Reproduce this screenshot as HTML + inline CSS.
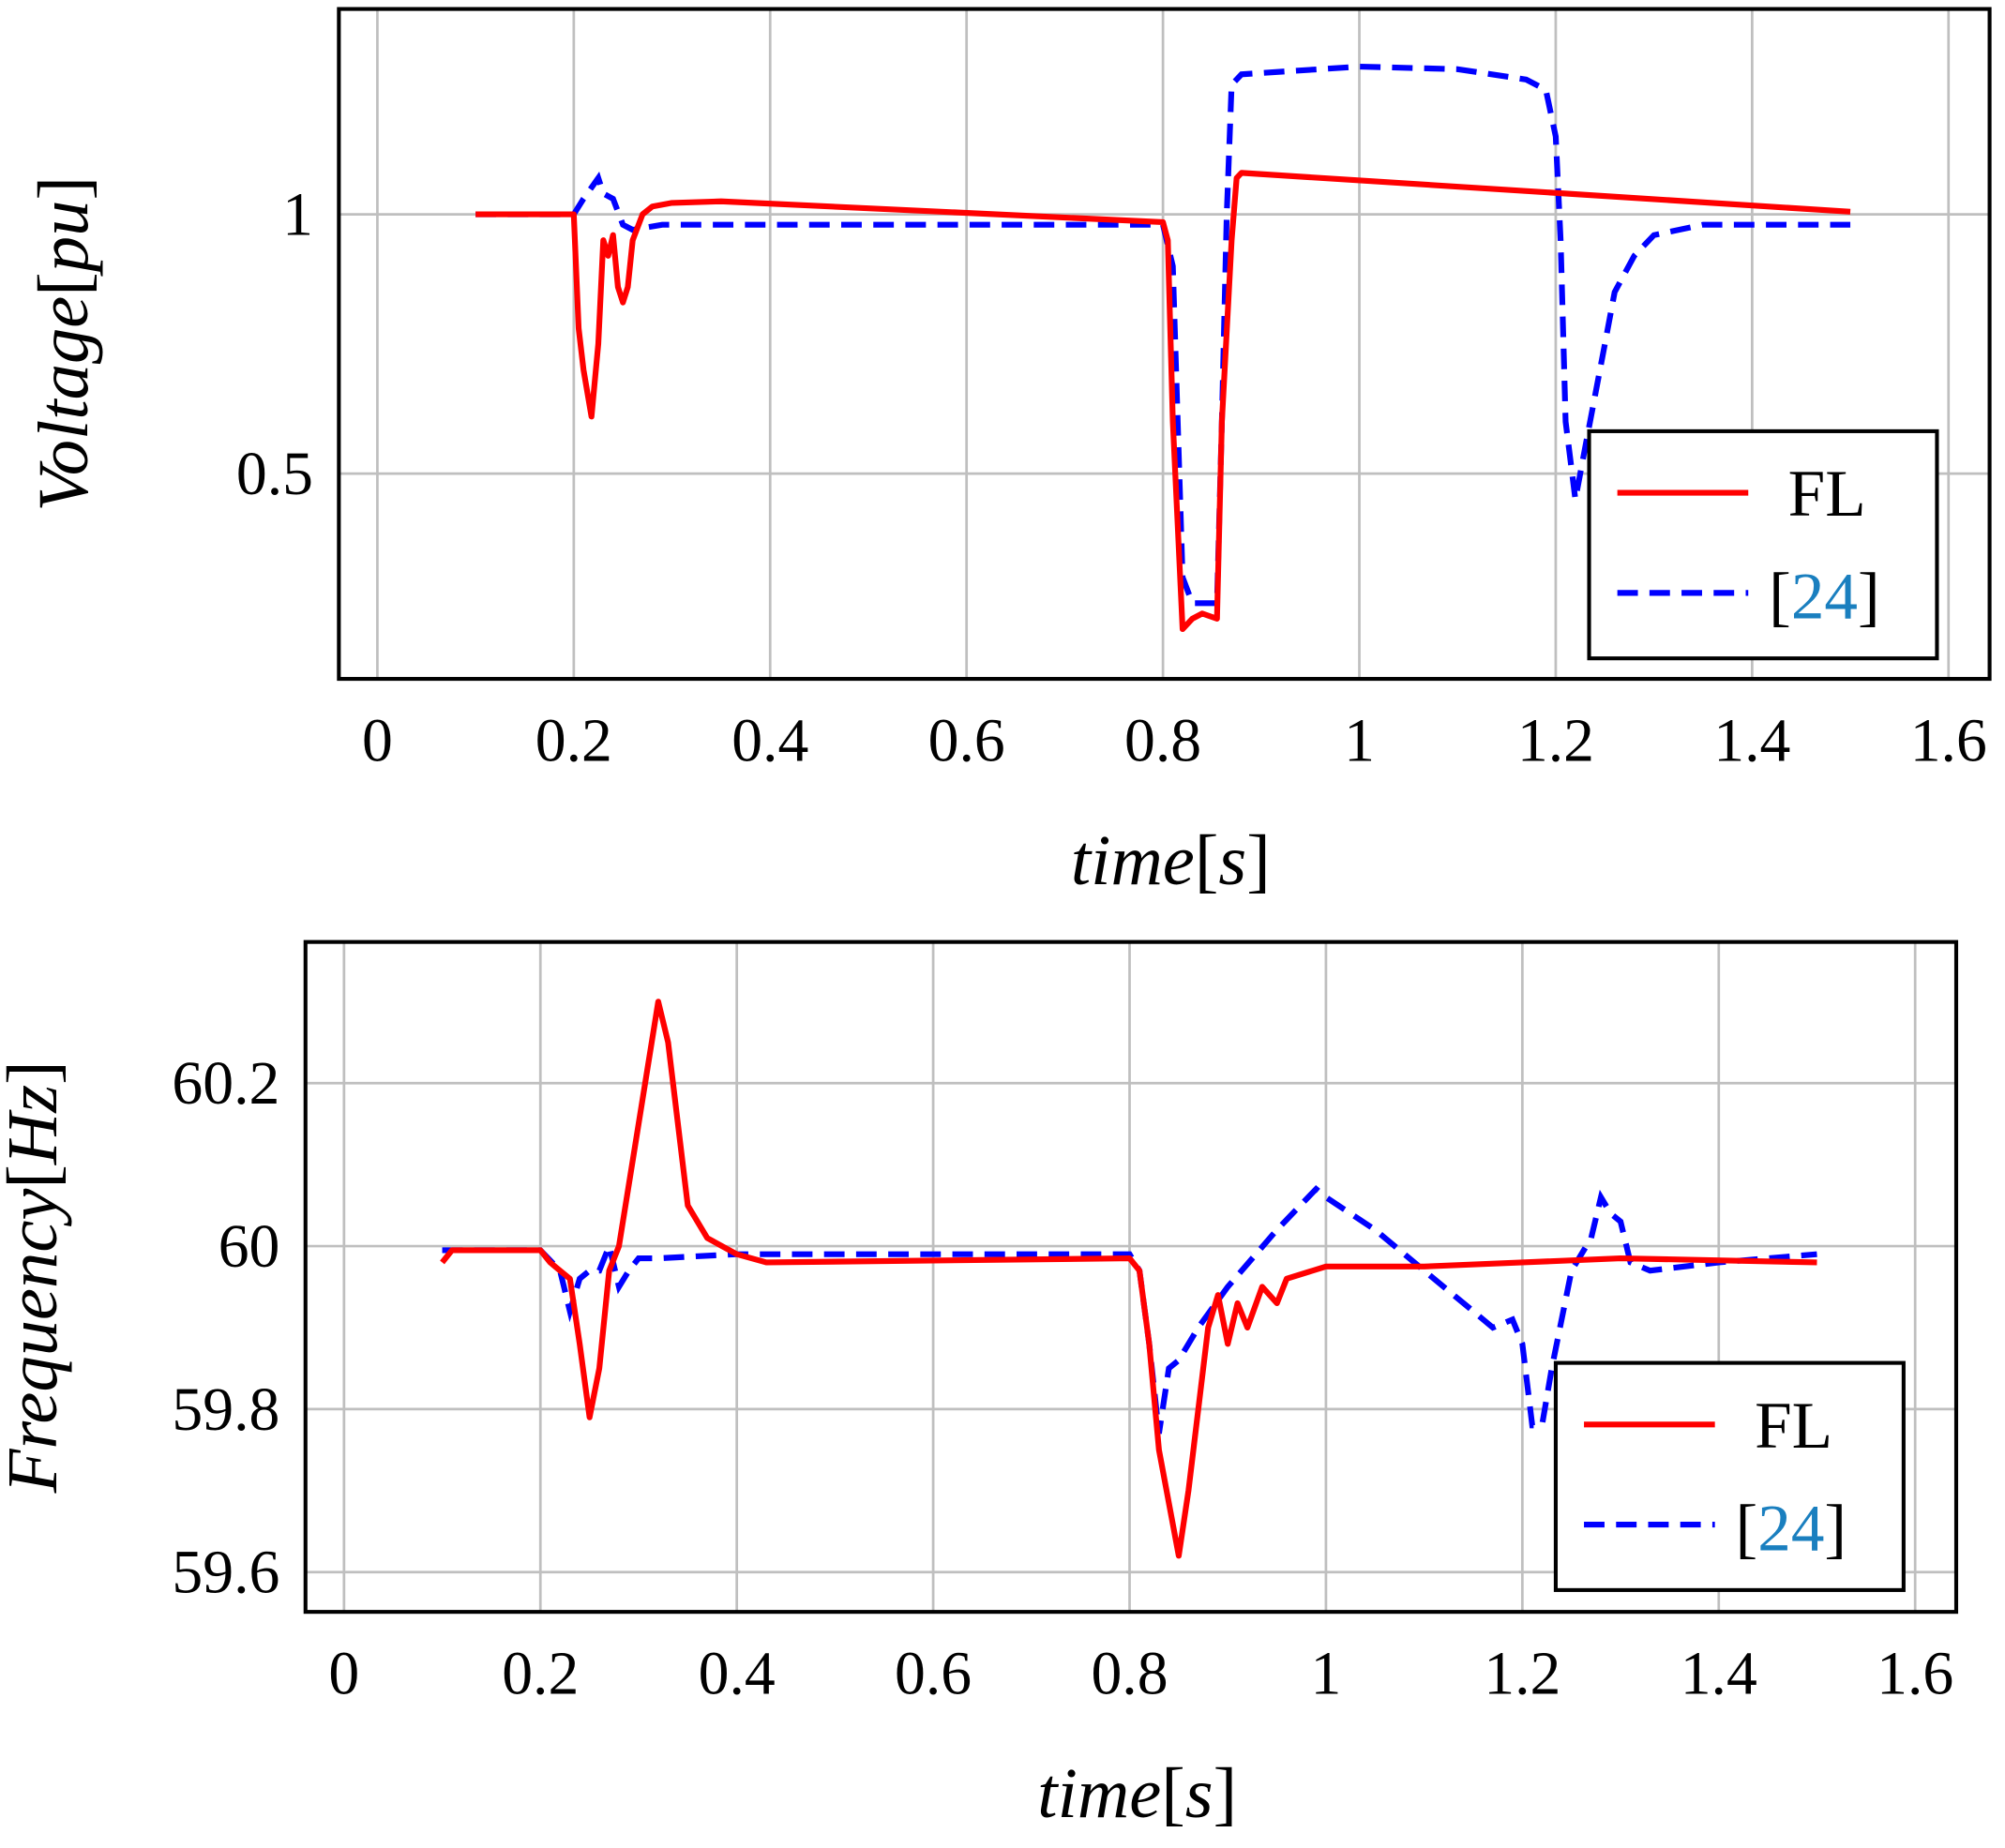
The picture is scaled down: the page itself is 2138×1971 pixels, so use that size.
<!DOCTYPE html>
<html><head><meta charset="utf-8"><style>
html,body{margin:0;padding:0;background:#fff;}
svg{display:block;}
text{font-family:"Liberation Serif",serif;fill:#000;}
</style></head><body>
<svg id="s" width="2138" height="1971" viewBox="0 0 1562 1440" preserveAspectRatio="none" xmlns="http://www.w3.org/2000/svg"></svg>
<script>
var S=document.getElementById('s'),h='';
function P(pts,fx,fy){return pts.map(function(p,i){return (i?'L':'M')+fx(p[0]).toFixed(1)+' '+fy(p[1]).toFixed(1);}).join(' ');}
function panel(o){
 var L=o.L,R=o.R,T=o.T,B=o.B;
 var fx=function(t){return o.x0+765*t;};
 for(var i=0;i<=8;i++){var x=fx(i*0.2);h+='<line x1="'+x+'" y1="'+T+'" x2="'+x+'" y2="'+B+'" stroke="#bfbfbf" stroke-width="2"/>';
  h+='<text x="'+x+'" y="'+(B+64)+'" font-size="48" text-anchor="middle">'+(i==0?'0':i==5?'1':(i*0.2).toFixed(1))+'</text>';}
 o.yt.forEach(function(v){var y=o.fy(v[0]);h+='<line x1="'+L+'" y1="'+y+'" x2="'+R+'" y2="'+y+'" stroke="#bfbfbf" stroke-width="2"/>';
  h+='<text x="'+(L-20)+'" y="'+(y+16)+'" font-size="48" text-anchor="end">'+v[1]+'</text>';});
 h+='<path d="'+P(o.blue,fx,o.fy)+'" fill="none" stroke="#0000ff" stroke-width="4.5" stroke-dasharray="16 9"/>';
 h+='<path d="'+P(o.red,fx,o.fy)+'" fill="none" stroke="#ff0000" stroke-width="4.5" stroke-linejoin="round"/>';
 h+='<rect x="'+L+'" y="'+T+'" width="'+(R-L)+'" height="'+(B-T)+'" fill="none" stroke="#000" stroke-width="3"/>';
 var lx=o.lx,ly=o.ly;
 h+='<rect x="'+lx+'" y="'+ly+'" width="271" height="177" fill="#fff" stroke="#000" stroke-width="3"/>';
 h+='<line x1="'+(lx+22)+'" y1="'+(ly+48)+'" x2="'+(lx+124)+'" y2="'+(ly+48)+'" stroke="#ff0000" stroke-width="4.5"/>';
 h+='<line x1="'+(lx+22)+'" y1="'+(ly+126)+'" x2="'+(lx+124)+'" y2="'+(ly+126)+'" stroke="#0000ff" stroke-width="4.5" stroke-dasharray="16 9"/>';
 h+='<text x="'+(lx+155)+'" y="'+(ly+66)+'" font-size="52">FL</text>';
 h+='<text x="'+(lx+140)+'" y="'+(ly+146)+'" font-size="52">[<tspan fill="#1a7fbf">24</tspan>]</text>';
 h+='<text x="'+((L+R)/2+5)+'" y="'+(B+160)+'" font-size="56" text-anchor="middle" font-style="italic">time<tspan font-style="normal">[</tspan>s<tspan font-style="normal">]</tspan></text>';
 h+='<text transform="translate('+o.ylx+','+((T+B)/2)+') rotate(-90)" font-size="56" text-anchor="middle" font-style="italic">'+o.yl+'</text>';
}
panel({L:264,R:1550,T:7,B:529,x0:294,fy:function(v){return 167+(1-v)*404;},
 yt:[[1,'1'],[0.5,'0.5']],lx:1238,ly:336,ylx:68,
 yl:'Voltage<tspan font-style="normal">[</tspan>pu<tspan font-style="normal">]</tspan>',
 red:[[0.1,1],[0.2,1],[0.205,0.78],[0.21,0.7],[0.218,0.61],[0.225,0.75],[0.23,0.95],[0.235,0.92],[0.24,0.96],[0.245,0.86],[0.25,0.83],[0.255,0.86],[0.26,0.95],[0.27,1.0],[0.28,1.015],[0.3,1.022],[0.35,1.025],[0.8,0.985],[0.805,0.95],[0.81,0.6],[0.815,0.4],[0.82,0.2],[0.83,0.22],[0.84,0.23],[0.855,0.22],[0.86,0.6],[0.87,0.95],[0.875,1.07],[0.88,1.08],[1.5,1.005]],
 blue:[[0.1,1],[0.2,1],[0.21,1.03],[0.225,1.07],[0.23,1.04],[0.24,1.03],[0.25,0.98],[0.26,0.97],[0.29,0.98],[0.8,0.98],[0.81,0.9],[0.815,0.6],[0.82,0.3],[0.83,0.25],[0.855,0.25],[0.86,0.6],[0.865,1.0],[0.87,1.25],[0.88,1.27],[1.0,1.285],[1.1,1.28],[1.17,1.26],[1.19,1.24],[1.2,1.15],[1.205,0.95],[1.21,0.6],[1.22,0.45],[1.23,0.55],[1.24,0.65],[1.25,0.75],[1.26,0.85],[1.28,0.92],[1.3,0.96],[1.35,0.98],[1.5,0.98]]});
panel({L:238,R:1524,T:734,B:1256,x0:268,fy:function(f){return 971-(f-60)*635;},
 yt:[[60.2,'60.2'],[60,'60'],[59.8,'59.8'],[59.6,'59.6']],lx:1212,ly:1062,ylx:44,
 yl:'Frequency<tspan font-style="normal">[</tspan>Hz<tspan font-style="normal">]</tspan>',
 red:[[0.1,59.98],[0.11,59.995],[0.2,59.995],[0.21,59.98],[0.22,59.97],[0.23,59.96],[0.24,59.88],[0.25,59.79],[0.26,59.85],[0.27,59.97],[0.28,60.0],[0.3,60.15],[0.32,60.3],[0.33,60.25],[0.35,60.05],[0.37,60.01],[0.4,59.99],[0.43,59.98],[0.8,59.985],[0.81,59.97],[0.82,59.88],[0.83,59.75],[0.85,59.62],[0.86,59.7],[0.88,59.9],[0.89,59.94],[0.9,59.88],[0.91,59.93],[0.92,59.9],[0.935,59.95],[0.95,59.93],[0.96,59.96],[1.0,59.975],[1.1,59.975],[1.2,59.98],[1.3,59.985],[1.5,59.98]],
 blue:[[0.1,59.995],[0.2,59.995],[0.22,59.97],[0.23,59.92],[0.24,59.96],[0.25,59.97],[0.26,59.97],[0.27,60.0],[0.28,59.95],[0.29,59.97],[0.3,59.985],[0.32,59.985],[0.4,59.99],[0.8,59.99],[0.81,59.97],[0.82,59.88],[0.83,59.77],[0.84,59.85],[0.85,59.86],[0.87,59.9],[0.9,59.95],[0.95,60.02],[0.99,60.07],[1.0,60.06],[1.05,60.02],[1.1,59.97],[1.15,59.92],[1.17,59.9],[1.19,59.91],[1.2,59.88],[1.21,59.78],[1.22,59.78],[1.23,59.85],[1.25,59.97],[1.27,60.01],[1.28,60.06],[1.29,60.04],[1.3,60.03],[1.31,59.98],[1.33,59.97],[1.4,59.98],[1.5,59.99]]});
S.innerHTML=h;
</script>
</body></html>
